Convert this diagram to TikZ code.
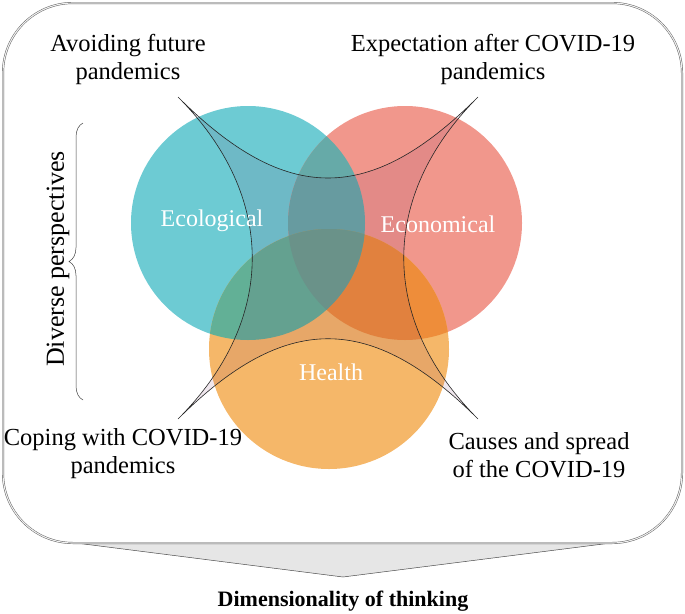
\documentclass[tikz,border=0pt]{standalone}
\usepackage{fontspec}
\setmainfont{Liberation Serif}
\usetikzlibrary{decorations.pathreplacing}
\definecolor{cteal}{RGB}{109,203,211}
\definecolor{cred}{RGB}{241,151,140}
\definecolor{corange}{RGB}{245,183,105}
\definecolor{ctr}{RGB}{102,170,168}
\definecolor{cro}{RGB}{238,141,58}
\definecolor{cto}{RGB}{98,176,150}
\definecolor{ctro}{RGB}{105,160,142}
\definecolor{starfill}{RGB}{120,40,100}
\definecolor{calloutfill}{RGB}{230,230,230}
\begin{document}
\begin{tikzpicture}[x=1pt,y=-1pt,
  txt/.style={font=\fontsize{24.5}{28}\selectfont, align=center, inner sep=0pt},
  sidetxt/.style={font=\fontsize{26}{30}\selectfont, inner sep=0pt},
  circlbl/.style={font=\fontsize{24}{28}\selectfont, text=white, inner sep=0pt},
  boldlbl/.style={font=\fontsize{22}{26}\selectfont\bfseries, inner sep=0pt},
  starline/.style={draw=black!85, line width=0.6pt, fill=starfill, fill opacity=0.11},
  framebox/.style={draw=gray!70!black, double=gray!12, double distance=1.1pt, line width=0.45pt, rounded corners=70pt},
  callout/.style={fill=calloutfill, draw=gray!60!black, line width=0.5pt},
  bracestyle/.style={decorate, decoration={brace, amplitude=14pt}, line width=0.5pt, draw=black!75}
]
\useasboundingbox (0,0) rectangle (685,613);

% callout triangle below the frame
\coordinate (kL) at (76,543);
\coordinate (kApex) at (343,577);
\coordinate (kR) at (611,543);
\filldraw[callout] (kL) -- (kApex) -- (kR);

% frame
\draw[framebox] (3,3) rectangle (682,543);

% circles
\coordinate (cT) at (248,223);
\coordinate (cR) at (405,223);
\coordinate (cO) at (329,349);
\fill[cteal] (cT) circle[radius=117];
\fill[cred] (cR) circle[radius=117];
\fill[corange] (cO) circle[radius=120];
\begin{scope}
  \clip (cT) circle[radius=117];
  \fill[ctr] (cR) circle[radius=117];
\end{scope}
\begin{scope}
  \clip (cR) circle[radius=117];
  \fill[cro] (cO) circle[radius=120];
\end{scope}
\begin{scope}
  \clip (cT) circle[radius=117];
  \fill[cto] (cO) circle[radius=120];
\end{scope}
\begin{scope}
  \clip (cT) circle[radius=117];
  \clip (cR) circle[radius=117];
  \fill[ctro] (cO) circle[radius=120];
\end{scope}

% concave star
\coordinate (tA) at (178,97);
\coordinate (tB) at (478,97);
\coordinate (tC) at (478,419);
\coordinate (tD) at (178,419);
\path[starline] (tA) .. controls (286,205) and (370,205) .. (tB)
  .. controls (379,196) and (379,320) .. (tC)
  .. controls (371,312) and (285,312) .. (tD)
  .. controls (277,320) and (277,196) .. (tA) -- cycle;

% circle labels
\node[circlbl] (ecol) at (212,221) {Ecological};
\node[circlbl] (econ) at (438,224) {Economical};
\node[circlbl] (health) at (331,372) {Health};

% corner texts
\node[txt] (avoid) at (128,59) {Avoiding future\\pandemics};
\node[txt] (expect) at (493,59) {Expectation after COVID-19\\pandemics};
\node[txt] (coping) at (123,454) {Coping with COVID-19\\pandemics};
\node[txt] (causes) at (539,455) {Causes and spread\\of the COVID-19};

% brace and side label
\coordinate (bBot) at (83,400);
\coordinate (bTop) at (83,123);
\draw[bracestyle] (bBot) -- (bTop);
\node[sidetxt, rotate=90] (diverse) at (58,259) {Diverse perspectives};

% bottom label
\node[boldlbl] (dim) at (343,601) {Dimensionality of thinking};
\end{tikzpicture}
\end{document}
